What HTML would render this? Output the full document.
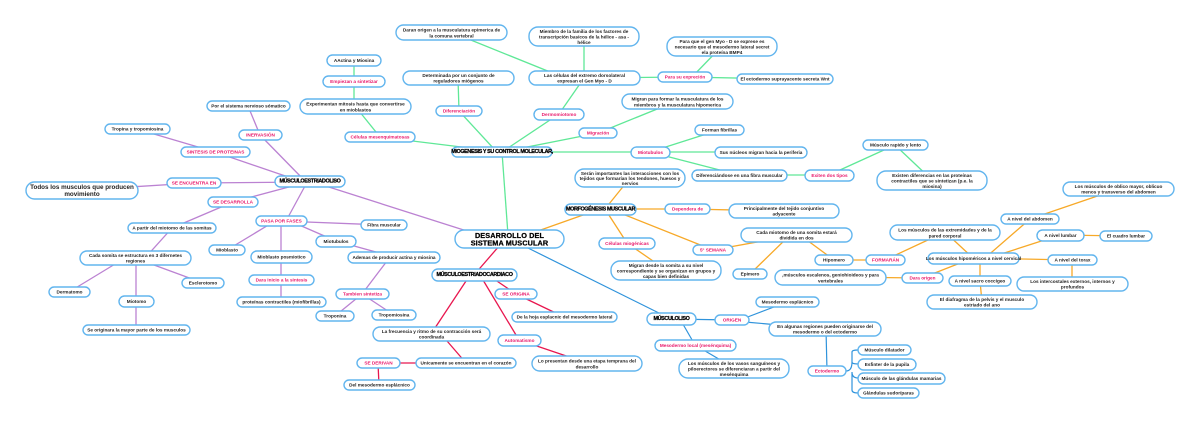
<!DOCTYPE html>
<html><head><meta charset="utf-8"><style>
html,body{margin:0;padding:0;background:#fff;}
svg{display:block}
text{font-family:"Liberation Sans",sans-serif;font-weight:bold;font-size:4.7px;fill:#222;text-anchor:middle;dominant-baseline:central}
.p{fill:#e8176a}
.t{font-size:5.4px;font-weight:900;letter-spacing:-0.35px;fill:#000;stroke:#000;stroke-width:0.25}
rect{fill:#fff;stroke:#62b5ee;stroke-width:1.4}
.g line,.g polyline{stroke:#5fe897;stroke-width:1.3;fill:none}
.v line{stroke:#bb82d2;stroke-width:1.3}
.r line,.r polyline{stroke:#e8174f;stroke-width:1.3;fill:none}
.o line{stroke:#f7a928;stroke-width:1.3}
.b line,.b path{stroke:#2f93db;stroke-width:1.2;fill:none}
</style></head><body>
<svg width="1200" height="424" viewBox="0 0 1200 424" xmlns="http://www.w3.org/2000/svg">
<g class="g">
<line x1="508" y1="235" x2="502" y2="152"/>
<line x1="502" y1="152" x2="380" y2="137"/>
<line x1="495" y1="150" x2="459" y2="111"/>
<line x1="505" y1="150" x2="559" y2="114"/>
<line x1="502" y1="152" x2="598" y2="133"/>
<line x1="502" y1="152" x2="650" y2="152"/>
<line x1="380" y1="137" x2="355" y2="106"/>
<line x1="354" y1="106" x2="354" y2="81"/>
<line x1="354" y1="81" x2="354" y2="60"/>
<line x1="459" y1="111" x2="458" y2="78"/>
<line x1="559" y1="114" x2="584" y2="78"/>
<line x1="565" y1="78" x2="451" y2="32"/>
<line x1="584" y1="78" x2="584" y2="36"/>
<line x1="584" y1="78" x2="685" y2="77"/>
<line x1="692" y1="77" x2="722" y2="46"/>
<line x1="685" y1="77" x2="785" y2="79"/>
<line x1="598" y1="133" x2="677" y2="101"/>
<line x1="650" y1="152" x2="719" y2="130"/>
<line x1="650" y1="152" x2="761" y2="152"/>
<line x1="650" y1="152" x2="739" y2="175"/>
<line x1="739" y1="175" x2="829" y2="175"/>
<line x1="829" y1="175" x2="895" y2="145"/>
<line x1="895" y1="145" x2="932" y2="180"/>
</g>
<g class="v">
<line x1="470" y1="232" x2="310" y2="181"/>
<line x1="305" y1="181" x2="260" y2="135"/>
<line x1="260" y1="135" x2="248" y2="106"/>
<line x1="300" y1="181" x2="215" y2="152"/>
<line x1="215" y1="152" x2="137" y2="129"/>
<line x1="310" y1="182" x2="194" y2="183"/>
<line x1="194" y1="183" x2="82" y2="190"/>
<line x1="300" y1="184" x2="233" y2="202"/>
<line x1="233" y1="202" x2="172" y2="228"/>
<line x1="172" y1="228" x2="145" y2="258"/>
<line x1="135" y1="258" x2="203" y2="283"/>
<line x1="125" y1="258" x2="69" y2="292"/>
<line x1="136" y1="258" x2="136" y2="301"/>
<line x1="136" y1="301" x2="136" y2="330"/>
<line x1="305" y1="186" x2="286" y2="221"/>
<line x1="281" y1="221" x2="384" y2="225"/>
<line x1="275" y1="221" x2="227" y2="250"/>
<line x1="281" y1="221" x2="281" y2="257"/>
<line x1="290" y1="221" x2="336" y2="241"/>
<line x1="281" y1="257" x2="281" y2="302"/>
<line x1="336" y1="241" x2="394" y2="257"/>
<line x1="390" y1="257" x2="362" y2="294"/>
<line x1="362" y1="294" x2="335" y2="316"/>
<line x1="362" y1="294" x2="394" y2="315"/>
</g>
<g class="r">
<line x1="500" y1="245" x2="474" y2="275"/>
<line x1="488" y1="275" x2="516" y2="294"/>
<line x1="516" y1="294" x2="564" y2="317"/>
<line x1="470" y1="275" x2="431" y2="334"/>
<line x1="441" y1="334" x2="466" y2="363"/>
<line x1="466" y1="363" x2="378" y2="363"/>
<line x1="378" y1="363" x2="379" y2="385"/>
<line x1="480" y1="275" x2="519" y2="340"/>
<line x1="519" y1="340" x2="587" y2="363"/>
</g>
<g class="o">
<line x1="535" y1="232" x2="600" y2="209"/>
<line x1="605" y1="209" x2="630" y2="178"/>
<line x1="600" y1="209" x2="687" y2="209"/>
<line x1="687" y1="209" x2="784" y2="211"/>
<line x1="605" y1="209" x2="627" y2="243"/>
<line x1="627" y1="243" x2="666" y2="270"/>
<line x1="610" y1="209" x2="713" y2="250"/>
<line x1="713" y1="250" x2="796" y2="235"/>
<line x1="790" y1="235" x2="750" y2="274"/>
<line x1="800" y1="235" x2="834" y2="260"/>
<line x1="834" y1="260" x2="885" y2="260"/>
<line x1="885" y1="260" x2="945" y2="232"/>
<line x1="945" y1="232" x2="973" y2="258"/>
<line x1="973" y1="258" x2="922" y2="278"/>
<line x1="922" y1="278" x2="830" y2="277"/>
<line x1="980" y1="258" x2="980" y2="281"/>
<line x1="980" y1="281" x2="982" y2="302"/>
<line x1="985" y1="258" x2="1030" y2="219"/>
<line x1="1030" y1="219" x2="1118" y2="189"/>
<line x1="995" y1="256" x2="1060" y2="235"/>
<line x1="1060" y1="235" x2="1126" y2="236"/>
<line x1="973" y1="258" x2="1072" y2="260"/>
<line x1="1072" y1="260" x2="1072" y2="284"/>
</g>
<g class="b">
<line x1="528" y1="248" x2="671" y2="319"/>
<line x1="671" y1="319" x2="732" y2="320"/>
<line x1="745" y1="318" x2="787" y2="302"/>
<line x1="745" y1="322" x2="825" y2="329"/>
<line x1="826" y1="329" x2="827" y2="371"/>
<line x1="680" y1="319" x2="695" y2="345"/>
<line x1="695" y1="345" x2="734" y2="368"/>
<path d="M846 371 Q852 371 852 362 L852 352 Q852 350 858 350 M852 362 Q852 364 858 364 M852 372 Q852 378 858 378 M852 372 L852 390 Q852 393 858 393"/>
</g>

<rect x="327" y="55" width="54" height="11" rx="5.5"/><text x="354" y="60.5">AActina y Miosina</text>
<rect x="323" y="76" width="62" height="11" rx="5.5"/><text class="p" x="354" y="81.5">Empiezan a sintetizar</text>
<rect x="300" y="99" width="111" height="15" rx="7.5"/><text x="355.5" y="104">Experimentan mitosis hasta que convertirse</text><text x="355.5" y="110">en mioblastos</text>
<rect x="345" y="132" width="70" height="10" rx="5"/><text class="p" x="380" y="137">Células mesenquimatosas</text>
<rect x="207" y="101" width="83" height="10" rx="5"/><text x="248.5" y="106">Por el sistema nervioso sómatico</text>
<rect x="239" y="130" width="43" height="10" rx="5"/><text class="p" x="260.5" y="135">INERVASIÓN</text>
<rect x="105" y="124" width="65" height="10" rx="5"/><text x="137.5" y="129">Tropina y tropomiosina</text>
<rect x="181" y="147" width="69" height="10" rx="5"/><text class="p" x="215.5" y="152">SINTESIS DE PROTEINAS</text>
<rect x="275" y="176" width="70" height="11" rx="5.5"/><text class="t" x="310" y="181.5">MÚSCULOESTRIADOLISO</text>
<rect x="167" y="178" width="54" height="10" rx="5"/><text class="p" x="194" y="183">SE ENCUENTRA EN</text>
<rect x="26" y="182" width="112" height="17" rx="8.5"/><text x="82" y="187.5" style="font-size:6.3px">Todos los musculos que producen</text><text x="82" y="194.5" style="font-size:6.3px">movimiento</text>
<rect x="208" y="197" width="50" height="10" rx="5"/><text class="p" x="233" y="202">SE DESARROLLA</text>

<rect x="396" y="25" width="111" height="15" rx="7.5"/><text x="451.5" y="30">Daran origen a la musculatura epimerica de</text><text x="451.5" y="36">la comuna vertebral</text>
<rect x="529" y="27" width="110" height="19" rx="9"/><text x="584" y="31.5">Miembro de la familia de los factores de</text><text x="584" y="37">transcripción basicos de la hélice - asa -</text><text x="584" y="42.5">hélice</text>
<rect x="667" y="37" width="110" height="19" rx="9"/><text x="722" y="41.5">Para que el gen Myo - D se exprese es</text><text x="722" y="47">necesario que el mesodermo lateral secret</text><text x="722" y="52.5">ela proteína BMP4</text>
<rect x="403" y="71" width="111" height="14" rx="7"/><text x="458.5" y="75.5">Determinada por un conjunto de</text><text x="458.5" y="81">reguladores miógenos</text>
<rect x="529" y="71" width="111" height="14" rx="7"/><text x="584.5" y="75.5">Las células del extremo dorsolateral</text><text x="584.5" y="81">expresan el Gen Myo - D</text>
<rect x="658" y="72" width="54" height="10" rx="5"/><text class="p" x="685" y="77">Para su expreción</text>
<rect x="737" y="74" width="96" height="10" rx="5"/><text x="785" y="79">El ectodermo suprayacente secreta Wnt</text>
<rect x="436" y="106" width="46" height="10" rx="5"/><text class="p" x="459" y="111">Diferenciación</text>
<rect x="534" y="109" width="50" height="11" rx="5.5"/><text class="p" x="559" y="114.5">Dermomiotomo</text>
<rect x="622" y="94" width="111" height="15" rx="7.5"/><text x="677.5" y="99">Migran para formar la musculatura de los</text><text x="677.5" y="105">miembros y la musculatura hipomerica</text>
<rect x="579" y="128" width="38" height="10" rx="5"/><text class="p" x="598" y="133">Migración</text>
<rect x="695" y="125" width="49" height="10" rx="5"/><text x="719.5" y="130">Forman fibrillas</text>
<rect x="452" y="147" width="100" height="10" rx="5"/><text class="t" x="502" y="152">MIOGENESIS Y SU CONTROL MOLECULAR,</text>
<rect x="631" y="147" width="39" height="11" rx="5.5"/><text class="p" x="650.5" y="152.5">Miotubulos</text>
<rect x="715" y="147" width="92" height="11" rx="5.5"/><text x="761" y="152.5">Sus núcleos migran hacia la periferia</text>
<rect x="575" y="169" width="110" height="18" rx="9"/><text x="630" y="173.5">Serán importantes las interacciones con los</text><text x="630" y="178.5">tejidos que formarían los tendones, huesos y</text><text x="630" y="183.5">nervios</text>
<rect x="692" y="170" width="95" height="11" rx="5.5"/><text x="739.5" y="175.5">Diferenciándose en una fibra muscular</text>
<rect x="565" y="204" width="71" height="11" rx="5.5"/><text class="t" x="600.5" y="209.5">MORFOGÉNESIS MUSCULAR</text>
<rect x="665" y="204" width="45" height="10" rx="5"/><text class="p" x="687.5" y="209">Dependera de</text>
<rect x="729" y="204" width="110" height="14" rx="7"/><text x="784" y="208.5">Principalmente del tejido conjuntivo</text><text x="784" y="214">adyacente</text>

<rect x="805" y="170" width="49" height="11" rx="5.5"/><text class="p" x="829.5" y="175.5">Exiten dos tipos</text>
<rect x="863" y="140" width="65" height="10" rx="5"/><text x="895.5" y="145">Músculo rapido y lento</text>
<rect x="877" y="171" width="110" height="19" rx="9"/><text x="932" y="175.5">Existen diferencias en las proteínas</text><text x="932" y="181">contractiles que se sintetizan (p.e. la</text><text x="932" y="186.5">miosina)</text>
<rect x="1063" y="182" width="111" height="14" rx="7"/><text x="1118.5" y="186.5">Los músculos de oblico mayor, oblicuo</text><text x="1118.5" y="192">menos y transverso del abdomen</text>

<rect x="128" y="223" width="88" height="10" rx="5"/><text x="172" y="228">A partir del miotomo de las somitas</text>
<rect x="256" y="216" width="51" height="10" rx="5"/><text class="p" x="281.5" y="221">PASA POR FASES</text>
<rect x="361" y="220" width="46" height="10" rx="5"/><text x="384" y="225">Fibra muscular</text>
<rect x="209" y="245" width="36" height="10" rx="5"/><text x="227" y="250">Mioblasto</text>
<rect x="316" y="236" width="40" height="11" rx="5.5"/><text x="336" y="241.5">Miotubulos</text>
<rect x="251" y="251" width="61" height="12" rx="6"/><text x="281.5" y="257">Mioblasto posmiotico</text>
<rect x="348" y="252" width="92" height="11" rx="5.5"/><text x="394" y="257.5">Ademas de producir actina y miosina</text>
<rect x="80" y="251" width="111" height="14" rx="7"/><text x="135.5" y="255.5">Cada somita se estructura en 3 difernetes</text><text x="135.5" y="261">regiones</text>
<rect x="182" y="278" width="42" height="10" rx="5"/><text x="203" y="283">Esclerotomo</text>
<rect x="49" y="287" width="41" height="10" rx="5"/><text x="69.5" y="292">Dermatomo</text>
<rect x="249" y="275" width="65" height="10" rx="5"/><text class="p" x="281.5" y="280">Dara inicio a la sintesis</text>
<rect x="336" y="289" width="53" height="10" rx="5"/><text class="p" x="362.5" y="294">Tambien sintetiza</text>
<rect x="237" y="297" width="89" height="10" rx="5"/><text x="281.5" y="302">proteínas contractiles (miofibrillas)</text>
<rect x="119" y="296" width="35" height="11" rx="5.5"/><text x="136.5" y="301.5">Miotomo</text>
<rect x="316" y="311" width="38" height="10" rx="5"/><text x="335" y="316">Troponina</text>
<rect x="372" y="310" width="44" height="10" rx="5"/><text x="394" y="315">Tropomiosina</text>
<rect x="83" y="325" width="107" height="10" rx="5"/><text x="136.5" y="330">Se originara la mayor parte de los musculos</text>
<rect x="357" y="358" width="43" height="10" rx="5"/><text class="p" x="378.5" y="363">SE DERIVAN</text>
<rect x="344" y="380" width="71" height="10" rx="5"/><text x="379.5" y="385">Del mesodermo esplácnico</text>

<rect x="455" y="230" width="109" height="18" rx="9"/><text class="t" x="509.5" y="235.5" style="font-size:7.3px;letter-spacing:0.1px">DESARROLLO DEL</text><text class="t" x="509.5" y="243" style="font-size:7.3px;letter-spacing:0.1px">SISTEMA MUSCULAR</text>
<rect x="432" y="269" width="85" height="12" rx="6"/><text class="t" x="474.5" y="275">MÚSCULOESTRIADOCARDIACO</text>
<rect x="495" y="289" width="42" height="10" rx="5"/><text class="p" x="516" y="294">SE ORIGINA</text>
<rect x="512" y="312" width="105" height="10" rx="5"/><text x="564.5" y="317">De la hoja esplacnic del mesodermo lateral</text>
<rect x="373" y="327" width="117" height="14" rx="7"/><text x="431.5" y="331.5">La frecuencia y ritmo de su contracción será</text><text x="431.5" y="337">coordinada</text>
<rect x="498" y="335" width="43" height="11" rx="5.5"/><text class="p" x="519.5" y="340.5">Automatismo</text>
<rect x="416" y="358" width="100" height="10" rx="5"/><text x="466" y="363">Unicamente se encuentran en el corazón</text>
<rect x="532" y="356" width="110" height="15" rx="7.5"/><text x="587" y="361">Lo presentan desde una etapa temprana del</text><text x="587" y="367">desarrollo</text>
<rect x="647" y="313" width="49" height="12" rx="6"/><text class="t" x="671.5" y="319">MÚSCULOLISO</text>
<rect x="715" y="315" width="34" height="10" rx="5"/><text class="p" x="732" y="320">ORIGEN</text>
<rect x="655" y="340" width="81" height="11" rx="5.5"/><text class="p" x="695.5" y="345.5">Mesodermo local (mesénquima)</text>
<rect x="679" y="359" width="110" height="19" rx="9"/><text x="734" y="363.5">Los músculos de los vasos sanguíneos y</text><text x="734" y="369">piloerectores se diferenciaran a partir del</text><text x="734" y="374.5">mesénquima</text>
<rect x="599" y="238" width="56" height="11" rx="5.5"/><text class="p" x="627" y="243.5">Células miogénicas</text>
<rect x="611" y="261" width="110" height="19" rx="9"/><text x="666" y="265.5">Migran desde la somita a su nivel</text><text x="666" y="271">correspondiente y se organizan en grupos y</text><text x="666" y="276.5">capas bien definidas</text>
<rect x="693" y="245" width="40" height="10" rx="5"/><text class="p" x="713" y="250">5° SEMANA</text>
<rect x="741" y="228" width="111" height="14" rx="7"/><text x="796.5" y="232.5">Cada miotomo de una somita estará</text><text x="796.5" y="238">dividida en dos</text>
<rect x="733" y="269" width="34" height="10" rx="5"/><text x="750" y="274">Epimero</text>

<rect x="756" y="297" width="63" height="10" rx="5"/><text x="787.5" y="302">Mesodermo esplácnico</text>
<rect x="769" y="322" width="112" height="14" rx="7"/><text x="825" y="326.5">En algunas regiones pueden originarse del</text><text x="825" y="332">mesodermo o del ectodermo</text>
<rect x="808" y="366" width="38" height="10" rx="5"/><text class="p" x="827" y="371">Ectodermo</text>
<rect x="858" y="345" width="53" height="10" rx="5"/><text x="884.5" y="350">Músculo dilatador</text>
<rect x="858" y="359" width="58" height="11" rx="5.5"/><text x="887" y="364.5">Esfinter de la pupila</text>
<rect x="858" y="373" width="87" height="11" rx="5.5"/><text x="901.5" y="378.5">Músculo de las glándulas mamarias</text>
<rect x="858" y="388" width="61" height="10" rx="5"/><text x="888.5" y="393">Glándulas sudoríparas</text>
<rect x="815" y="255" width="38" height="10" rx="5"/><text x="834" y="260">Hipomero</text>
<rect x="866" y="255" width="39" height="10" rx="5"/><text class="p" x="885.5" y="260">FORMARÁN</text>
<rect x="775" y="270" width="111" height="15" rx="7.5"/><text x="830.5" y="275">,músculos escalenos, geniohioideos y para</text><text x="830.5" y="281">vertebrales</text>
<rect x="902" y="273" width="41" height="10" rx="5"/><text class="p" x="922.5" y="278">Dara origen</text>
<rect x="890" y="225" width="110" height="15" rx="7.5"/><text x="945" y="230">Los músculos de las extremidades y de la</text><text x="945" y="236">pared corporal</text>
<rect x="928" y="253" width="91" height="11" rx="5.5"/><text x="973.5" y="258.5">Los músculos hipoméricos a nivel cervical</text>
<rect x="949" y="276" width="62" height="10" rx="5"/><text x="980" y="281">A nivel sacro coccígeo</text>
<rect x="927" y="295" width="110" height="14" rx="7"/><text x="982" y="299.5">El diafragma de la pelvis y el musculo</text><text x="982" y="305">estriado del ano</text>
<rect x="1001" y="214" width="58" height="10" rx="5"/><text x="1030" y="219">A nivel del abdomen</text>
<rect x="1037" y="230" width="47" height="11" rx="5.5"/><text x="1060.5" y="235.5">A nivel lumbar</text>
<rect x="1100" y="231" width="52" height="10" rx="5"/><text x="1126" y="236">El cuadro lumbar</text>
<rect x="1048" y="255" width="49" height="10" rx="5"/><text x="1072.5" y="260">A nivel del torax</text>
<rect x="1017" y="277" width="111" height="14" rx="7"/><text x="1072.5" y="281.5">Los intercostales externos, internos y</text><text x="1072.5" y="287">profundos</text>
</svg>
</body></html>
